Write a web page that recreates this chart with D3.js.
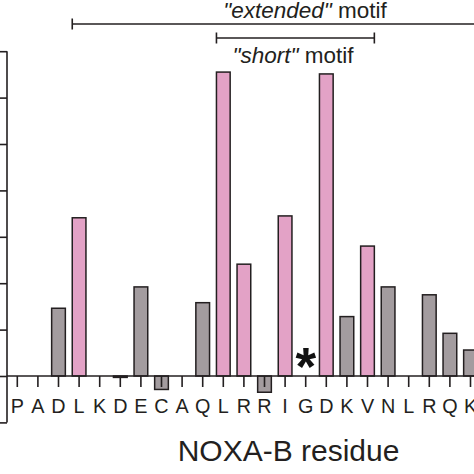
<!DOCTYPE html>
<html><head><meta charset="utf-8">
<script src="https://cdn.jsdelivr.net/npm/d3@7"></script>
<style>html,body{margin:0;padding:0;background:#fff;}svg{display:block;}</style>
</head><body>
<svg id="c" width="474" height="474"></svg>
<script>
const residues = ["P","A","D","L","K","D","E","C","A","Q","L","R","R","I","G","D","K","V","N","L","R","Q","K"];
const values   = [0, 0, 1.46, 3.41, 0, -0.03, 1.92, -0.29, 0, 1.58, 6.55, 2.41, -0.35, 3.45, 0, 6.51, 1.28, 2.80, 1.92, 0, 1.75, 0.92, 0.56];
const highlighted = [3, 10, 11, 13, 15, 17];
const starred = [14];
const yTicks = [-1, 0, 1, 2, 3, 4, 5, 6, 7];
const motifs = [
  {label: "extended", start: 3, end: 22, level: 0},
  {label: "short", start: 10, end: 17, level: 1}
];

const pink = "#e3a2c6", gray = "#a39c9f", ink = "#231f20";
const svg = d3.select("#c");
const font = "'Liberation Sans', Arial, sans-serif";

const x = d3.scaleBand().domain(d3.range(residues.length)).range([7, 480.8])
  .paddingInner(0.335).paddingOuter(0.1675).align(0.5);
const y = d3.scaleLinear().domain([-1, 7]).range([422.4, 51.2]);
const cx = i => x(i) + x.bandwidth() / 2;

// y axis
const yAxis = d3.axisLeft(y).tickValues(yTicks).tickSize(7).tickFormat("");
const gy = svg.append("g").attr("transform", "translate(7,0)").call(yAxis);
gy.select(".domain").attr("d", `M0,${y(-1)}V${y(7)}`);
gy.selectAll("path,line").attr("stroke", ink).attr("stroke-width", 1.6);

// bars
const data = values.map((v, i) => ({i, v})).filter(d => d.v !== 0);
svg.append("g").selectAll("rect").data(data).join("rect")
  .attr("x", d => x(d.i))
  .attr("width", x.bandwidth())
  .attr("y", d => Math.min(y(d.v), y(0)))
  .attr("height", d => Math.max(Math.abs(y(d.v) - y(0)), 0.5))
  .attr("fill", d => highlighted.includes(d.i) ? pink : gray)
  .attr("stroke", ink).attr("stroke-width", 1.5);

// x axis
const xAxis = d3.axisBottom(x).tickSize(11).tickFormat(i => residues[i]).tickPadding(12);
const gx = svg.append("g").attr("transform", `translate(0,${y(0)})`).call(xAxis);
gx.select(".domain").attr("d", `M7,0H474`);
gx.selectAll("path,line").attr("stroke", ink).attr("stroke-width", 1.6);
gx.selectAll("text").attr("font-family", font).attr("font-size", 19.8).attr("fill", ink);

// asterisks
svg.append("g").selectAll("text").data(starred).join("text")
  .attr("x", d => cx(d)).attr("y", 385)
  .attr("text-anchor", "middle").attr("font-family", font).attr("font-weight", "bold")
  .attr("font-size", 53).attr("fill", "#111").text("*");

// motif brackets
const bracketY = [24, 38];
const textY = [17.5, 63];
motifs.forEach(m => {
  const x1 = x(m.start), x2 = x(m.end) + x.bandwidth();
  const by = bracketY[m.level];
  const g = svg.append("g").attr("stroke", ink).attr("stroke-width", 1.6);
  g.append("line").attr("x1", x1).attr("x2", x2).attr("y1", by).attr("y2", by);
  g.append("line").attr("x1", x1).attr("x2", x1).attr("y1", by - 5.5).attr("y2", by + 5.5);
  g.append("line").attr("x1", x2).attr("x2", x2).attr("y1", by - 5.5).attr("y2", by + 5.5);
  const t = svg.append("text").attr("x", m.level === 0 ? 305 : 293).attr("y", textY[m.level])
    .attr("text-anchor", "middle").attr("font-family", font).attr("font-size", 22.5).attr("fill", ink);
  t.append("tspan").attr("font-style", "italic").text(`"${m.label}"`);
  t.append("tspan").text(" motif");
});

// axis title
svg.append("text").attr("x", 288.5).attr("y", 461).attr("text-anchor", "middle")
  .attr("font-family", font).attr("font-size", 30).attr("fill", ink).text("NOXA-B residue");
</script>
</body></html>
